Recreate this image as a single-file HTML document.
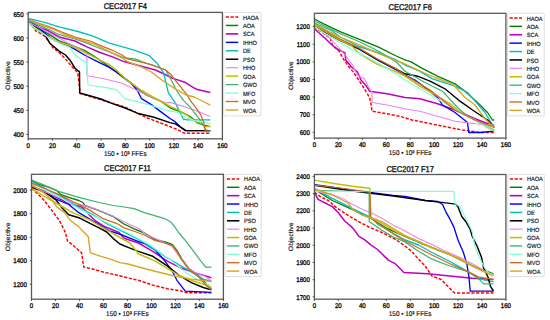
<!DOCTYPE html><html><head><meta charset="utf-8"><style>html,body{margin:0;padding:0;background:#fff;width:550px;height:320px;overflow:hidden}svg{display:block}</style></head><body>
<svg width="550" height="320" viewBox="0 0 550 320" text-rendering="geometricPrecision" font-family='"Liberation Sans", sans-serif'>
<rect width="550" height="320" fill="#fff"/>
<g fill="none" stroke-linejoin="round" stroke-linecap="butt">
<polyline points="28.2,22.5 31.1,24.5 35.8,30.8 43.6,35.4 48.3,40.9 53.0,47.9 59.2,52.6 65.5,58.9 71.3,66.0 77.8,72.8 80.3,93.5 88.0,96.0 101.0,99.8 125.0,107.0 145.6,117.3 162.1,123.5 176.7,129.3 184.8,133.3 210.3,133.3" stroke="#ff0000" stroke-width="1.45" stroke-dasharray="3.2,1.6"/>
<polyline points="28.2,22.0 35.8,26.8 48.3,33.9 59.2,40.9 75.0,46.6 84.4,50.3 93.8,56.0 103.1,62.5 112.5,69.0 121.9,76.6 131.3,83.2 145.6,94.6 160.0,100.8 170.0,107.8 180.8,111.8 190.2,116.5 196.9,122.6 203.6,125.2 210.3,126.6" stroke="#008000" stroke-width="1.35"/>
<polyline points="28.2,21.0 37.4,26.8 48.3,30.8 59.2,37.0 75.0,41.0 86.3,46.6 99.4,52.2 112.5,56.9 123.8,61.6 135.0,64.4 155.5,70.0 164.0,74.0 172.4,78.1 184.8,82.2 193.0,87.4 197.2,89.5 210.3,92.6" stroke="#bf00bf" stroke-width="1.50"/>
<polyline points="28.2,21.4 37.4,26.0 43.6,32.3 51.4,38.6 59.2,42.5 68.6,45.6 75.0,49.4 86.3,56.0 97.5,61.6 108.8,67.2 116.3,71.9 123.8,77.5 131.3,83.2 137.4,90.5 141.5,98.7 151.8,104.9 160.0,111.1 170.0,118.5 175.4,121.9 180.8,127.3 184.8,130.6 210.3,130.6" stroke="#0000ff" stroke-width="1.35"/>
<polyline points="28.2,18.3 43.6,22.2 59.2,26.8 78.0,31.5 93.8,36.3 108.8,42.8 121.9,46.6 135.0,50.3 141.0,52.7 149.4,55.7 157.5,63.8 163.6,73.0 168.3,92.6 175.4,103.1 180.8,113.8 183.4,119.2 186.9,119.9 210.3,119.9" stroke="#00bfbf" stroke-width="1.35"/>
<polyline points="28.2,22.2 32.7,25.3 35.8,27.6 40.5,31.5 45.2,35.4 49.9,43.2 54.6,47.2 59.2,51.1 65.5,55.0 70.2,60.4 75.0,68.2 79.5,71.9 79.7,93.0 88.0,95.3 101.0,99.0 110.5,102.9 125.0,108.0 137.4,113.2 153.9,117.3 170.0,122.6 175.4,123.9 186.1,130.6 210.3,130.6" stroke="#000000" stroke-width="1.45"/>
<polyline points="28.2,22.0 40.0,28.0 55.0,36.0 70.0,44.0 80.0,49.0 86.8,53.1 87.0,75.7 103.1,78.5 121.9,83.2 145.6,94.6 166.2,102.9 170.0,102.4 183.4,106.4 196.9,111.1 210.3,116.5" stroke="#ee82ee" stroke-width="1.10"/>
<polyline points="28.2,22.2 35.8,29.2 46.8,36.2 56.1,40.9 67.0,44.8 75.0,47.5 86.3,53.1 97.5,58.8 108.8,64.4 116.3,70.0 123.8,77.5 131.3,83.2 141.5,90.5 155.9,98.7 170.0,106.4 178.0,109.8 186.1,114.5 192.8,119.9 196.9,121.9 202.3,123.9 205.0,126.6 210.3,126.6" stroke="#bfbf00" stroke-width="1.45"/>
<polyline points="28.2,20.6 48.3,29.2 59.2,34.7 75.0,39.0 86.3,42.8 97.5,47.5 112.5,53.1 123.8,57.8 135.0,58.8 145.0,62.8 165.6,70.0 169.7,77.0 176.5,90.5 183.4,100.4 190.2,107.1 194.2,112.5 199.6,119.2 203.6,125.9 206.3,130.0 210.3,130.5" stroke="#3cb371" stroke-width="1.25"/>
<polyline points="28.2,23.0 38.0,30.0 48.3,37.0 59.2,43.2 70.2,47.9 75.0,55.0 82.5,60.6 86.3,62.5 88.1,85.0 105.0,87.3 116.3,89.7 125.0,98.7 145.6,103.9 166.2,110.1 178.0,112.5 186.1,117.8 194.2,120.5 202.3,121.9 210.3,123.9" stroke="#7fffd4" stroke-width="1.20"/>
<polyline points="28.2,19.0 37.4,22.9 51.4,27.6 62.4,32.3 75.0,37.2 90.0,41.0 103.1,46.6 112.5,50.3 121.9,55.0 127.5,58.8 135.0,60.6 151.4,64.5 165.6,70.0 170.4,74.0 178.6,84.3 186.9,94.6 190.2,100.4 195.5,107.1 200.9,115.2 203.6,121.9 205.0,130.0 205.6,131.3 210.3,131.3" stroke="#d2691e" stroke-width="1.25"/>
<polyline points="28.2,19.5 37.4,23.5 51.4,28.5 62.4,33.5 75.0,38.1 93.8,43.8 108.8,51.3 121.9,57.8 127.5,61.6 135.0,64.4 141.3,66.9 151.4,72.0 162.1,80.2 174.5,88.4 186.1,95.0 194.2,97.0 202.3,101.0 210.3,105.1" stroke="#daa520" stroke-width="1.35"/>
</g>
<rect x="28.20" y="12.40" width="194.20" height="126.40" fill="none" stroke="#5a5a5a" stroke-width="1.3"/>
<path d="M28.20 138.80v1.8 M52.48 138.80v1.8 M76.75 138.80v1.8 M101.03 138.80v1.8 M125.30 138.80v1.8 M149.57 138.80v1.8 M173.85 138.80v1.8 M198.12 138.80v1.8 M222.40 138.80v1.8 M28.20 134.50h-1.8 M28.20 110.38h-1.8 M28.20 86.26h-1.8 M28.20 62.14h-1.8 M28.20 38.02h-1.8 M28.20 13.90h-1.8" stroke="#333" stroke-width="0.8" fill="none"/>
<g fill="#111" stroke="#111"><text transform="translate(28.20 147.80) scale(1 1.130)" font-size="6.10" text-anchor="middle" stroke-width="0.30">0</text><text transform="translate(52.48 147.80) scale(1 1.130)" font-size="6.10" text-anchor="middle" stroke-width="0.30">20</text><text transform="translate(76.75 147.80) scale(1 1.130)" font-size="6.10" text-anchor="middle" stroke-width="0.30">40</text><text transform="translate(101.03 147.80) scale(1 1.130)" font-size="6.10" text-anchor="middle" stroke-width="0.30">60</text><text transform="translate(125.30 147.80) scale(1 1.130)" font-size="6.10" text-anchor="middle" stroke-width="0.30">80</text><text transform="translate(149.57 147.80) scale(1 1.130)" font-size="6.10" text-anchor="middle" stroke-width="0.30">100</text><text transform="translate(173.85 147.80) scale(1 1.130)" font-size="6.10" text-anchor="middle" stroke-width="0.30">120</text><text transform="translate(198.12 147.80) scale(1 1.130)" font-size="6.10" text-anchor="middle" stroke-width="0.30">140</text><text transform="translate(222.40 147.80) scale(1 1.130)" font-size="6.10" text-anchor="middle" stroke-width="0.30">160</text><text transform="translate(23.60 137.10) scale(1 1.130)" font-size="6.10" text-anchor="end" stroke-width="0.30">400</text><text transform="translate(23.60 112.98) scale(1 1.130)" font-size="6.10" text-anchor="end" stroke-width="0.30">450</text><text transform="translate(23.60 88.86) scale(1 1.130)" font-size="6.10" text-anchor="end" stroke-width="0.30">500</text><text transform="translate(23.60 64.74) scale(1 1.130)" font-size="6.10" text-anchor="end" stroke-width="0.30">550</text><text transform="translate(23.60 40.62) scale(1 1.130)" font-size="6.10" text-anchor="end" stroke-width="0.30">600</text><text transform="translate(23.60 16.50) scale(1 1.130)" font-size="6.10" text-anchor="end" stroke-width="0.30">650</text></g>
<g fill="#111" stroke="#111"><text transform="translate(125.30 9.40) scale(1 1.120)" font-size="7.50" text-anchor="middle" stroke-width="0.30">CEC2017 F4</text><text transform="translate(125.30 155.80) scale(1 1.080)" font-size="6.40" text-anchor="middle" stroke-width="0.15">150 &#8226; 10&#179; FFEs</text><text transform="translate(9.50 75.60) rotate(-90) scale(1.08 1)" font-size="6.40" text-anchor="middle" stroke-width="0.15">Objective</text></g>
<rect x="223.75" y="12.40" width="37.25" height="103.50" fill="#fff" stroke="#d0d0d0" stroke-width="0.7" rx="1"/>
<line x1="225.75" y1="17.00" x2="238.25" y2="17.00" stroke="#ff0000" stroke-width="1.55" stroke-dasharray="3.2,1.6"/>
<line x1="225.75" y1="25.45" x2="238.25" y2="25.45" stroke="#008000" stroke-width="1.45"/>
<line x1="225.75" y1="33.90" x2="238.25" y2="33.90" stroke="#bf00bf" stroke-width="1.60"/>
<line x1="225.75" y1="42.35" x2="238.25" y2="42.35" stroke="#0000ff" stroke-width="1.45"/>
<line x1="225.75" y1="50.80" x2="238.25" y2="50.80" stroke="#00bfbf" stroke-width="1.45"/>
<line x1="225.75" y1="59.25" x2="238.25" y2="59.25" stroke="#000000" stroke-width="1.55"/>
<line x1="225.75" y1="67.70" x2="238.25" y2="67.70" stroke="#ee82ee" stroke-width="1.20"/>
<line x1="225.75" y1="76.15" x2="238.25" y2="76.15" stroke="#bfbf00" stroke-width="1.55"/>
<line x1="225.75" y1="84.60" x2="238.25" y2="84.60" stroke="#3cb371" stroke-width="1.35"/>
<line x1="225.75" y1="93.05" x2="238.25" y2="93.05" stroke="#7fffd4" stroke-width="1.30"/>
<line x1="225.75" y1="101.50" x2="238.25" y2="101.50" stroke="#d2691e" stroke-width="1.35"/>
<line x1="225.75" y1="109.95" x2="238.25" y2="109.95" stroke="#daa520" stroke-width="1.45"/>
<g fill="#111" stroke="#111"><text transform="translate(242.95 19.55) scale(1 1.100)" font-size="5.60" stroke-width="0.15">HAOA</text><text transform="translate(242.95 28.00) scale(1 1.100)" font-size="5.60" stroke-width="0.15">AOA</text><text transform="translate(242.95 36.45) scale(1 1.100)" font-size="5.60" stroke-width="0.15">SCA</text><text transform="translate(242.95 44.90) scale(1 1.100)" font-size="5.60" stroke-width="0.15">IHHO</text><text transform="translate(242.95 53.35) scale(1 1.100)" font-size="5.60" stroke-width="0.15">DE</text><text transform="translate(242.95 61.80) scale(1 1.100)" font-size="5.60" stroke-width="0.15">PSO</text><text transform="translate(242.95 70.25) scale(1 1.100)" font-size="5.60" stroke-width="0.15">HHO</text><text transform="translate(242.95 78.70) scale(1 1.100)" font-size="5.60" stroke-width="0.15">GOA</text><text transform="translate(242.95 87.15) scale(1 1.100)" font-size="5.60" stroke-width="0.15">GWO</text><text transform="translate(242.95 95.60) scale(1 1.100)" font-size="5.60" stroke-width="0.15">MFO</text><text transform="translate(242.95 104.05) scale(1 1.100)" font-size="5.60" stroke-width="0.15">MVO</text><text transform="translate(242.95 112.50) scale(1 1.100)" font-size="5.60" stroke-width="0.15">WOA</text></g>
<g fill="none" stroke-linejoin="round" stroke-linecap="butt">
<polyline points="314.4,27.2 322.2,32.3 330.3,38.4 332.3,44.5 339.0,51.0 344.0,60.0 349.5,67.5 353.1,71.9 357.0,77.5 362.0,85.0 365.8,91.2 369.5,97.5 370.8,102.5 372.0,111.2 387.0,113.8 399.5,116.2 412.0,120.0 425.0,122.5 442.5,126.2 462.5,130.0 480.0,132.5 494.2,132.5" stroke="#ff0000" stroke-width="1.45" stroke-dasharray="3.2,1.6"/>
<polyline points="314.4,19.0 324.2,24.2 340.0,31.6 358.8,39.1 377.5,46.6 396.3,56.0 405.0,59.8 411.1,61.8 421.3,67.9 437.5,76.2 455.0,83.8 465.0,91.2 477.5,102.5 487.5,112.5 492.5,120.0 494.2,120.0" stroke="#008000" stroke-width="1.35"/>
<polyline points="314.4,28.5 318.0,32.0 324.5,37.8 330.0,43.0 335.4,48.0 340.0,50.5 344.8,52.6 345.8,60.0 351.5,67.0 357.5,72.0 361.0,80.0 366.3,86.0 369.5,91.2 387.0,93.8 405.0,97.5 420.0,98.8 437.5,103.8 455.0,110.0 475.0,118.8 494.2,126.2" stroke="#bf00bf" stroke-width="1.50"/>
<polyline points="314.4,26.0 340.0,40.5 358.8,49.0 377.5,60.0 396.3,70.0 405.0,75.0 415.0,80.0 425.0,87.5 437.5,97.5 442.5,105.0 455.0,112.5 467.5,122.5 468.8,132.5 480.0,132.5 494.2,131.2" stroke="#0000ff" stroke-width="1.35"/>
<polyline points="314.4,23.0 332.3,31.0 340.0,37.0 358.8,46.5 377.5,52.5 396.3,60.0 405.0,65.0 417.5,70.0 432.5,78.8 455.0,86.2 467.5,92.5 477.5,103.8 485.0,112.5 492.5,125.0 494.2,125.0" stroke="#00bfbf" stroke-width="1.35"/>
<polyline points="314.4,26.0 340.0,40.0 358.8,48.5 377.5,59.7 396.3,69.1 405.0,73.8 417.5,76.2 430.0,81.2 445.0,88.8 460.0,101.2 472.5,110.0 487.5,120.0 494.2,127.5" stroke="#000000" stroke-width="1.45"/>
<polyline points="314.4,26.0 330.0,38.0 345.0,55.0 352.6,64.8 357.0,75.0 364.5,78.8 368.2,86.2 372.0,92.5 372.0,102.5 387.0,105.0 405.0,108.8 420.0,111.2 437.5,116.2 455.0,121.2 475.0,123.8 494.2,125.0" stroke="#ee82ee" stroke-width="1.10"/>
<polyline points="314.4,25.0 340.0,40.0 351.3,45.6 358.8,53.1 368.1,58.8 377.5,64.4 396.3,71.9 405.0,76.2 420.0,86.2 437.5,96.2 450.0,103.8 462.5,113.8 475.0,120.0 487.5,127.5 494.2,131.2" stroke="#bfbf00" stroke-width="1.45"/>
<polyline points="314.4,21.0 340.0,33.5 360.0,42.0 380.0,52.0 396.3,62.0 405.0,71.2 425.0,82.5 442.5,91.2 457.5,107.5 467.5,116.2 480.0,122.5 494.2,130.0" stroke="#3cb371" stroke-width="1.25"/>
<polyline points="314.4,27.0 340.0,42.8 355.0,51.3 370.0,58.8 386.9,68.2 400.0,76.6 405.0,80.0 420.0,88.8 435.0,97.5 450.0,106.2 465.0,115.0 480.0,122.5 494.2,131.0" stroke="#7fffd4" stroke-width="1.20"/>
<polyline points="314.4,24.0 340.0,39.0 358.8,48.0 377.5,59.0 396.3,69.0 405.0,75.0 430.0,90.0 455.0,110.0 475.0,120.0 494.2,127.5" stroke="#d2691e" stroke-width="1.25"/>
<polyline points="314.4,24.0 340.0,37.0 358.8,44.7 377.5,53.1 396.3,60.6 405.0,64.0 420.0,71.2 435.0,77.5 452.5,83.8 465.0,97.5 475.0,105.0 485.0,118.8 492.5,126.2 494.2,126.5" stroke="#daa520" stroke-width="1.35"/>
</g>
<rect x="314.40" y="13.30" width="191.50" height="124.80" fill="none" stroke="#5a5a5a" stroke-width="1.3"/>
<path d="M314.40 138.10v1.8 M338.34 138.10v1.8 M362.27 138.10v1.8 M386.21 138.10v1.8 M410.15 138.10v1.8 M434.09 138.10v1.8 M458.02 138.10v1.8 M481.96 138.10v1.8 M505.90 138.10v1.8 M314.40 132.40h-1.8 M314.40 114.77h-1.8 M314.40 97.13h-1.8 M314.40 79.50h-1.8 M314.40 61.87h-1.8 M314.40 44.23h-1.8 M314.40 26.60h-1.8" stroke="#333" stroke-width="0.8" fill="none"/>
<g fill="#111" stroke="#111"><text transform="translate(314.40 147.10) scale(1 1.130)" font-size="6.10" text-anchor="middle" stroke-width="0.30">0</text><text transform="translate(338.34 147.10) scale(1 1.130)" font-size="6.10" text-anchor="middle" stroke-width="0.30">20</text><text transform="translate(362.27 147.10) scale(1 1.130)" font-size="6.10" text-anchor="middle" stroke-width="0.30">40</text><text transform="translate(386.21 147.10) scale(1 1.130)" font-size="6.10" text-anchor="middle" stroke-width="0.30">60</text><text transform="translate(410.15 147.10) scale(1 1.130)" font-size="6.10" text-anchor="middle" stroke-width="0.30">80</text><text transform="translate(434.09 147.10) scale(1 1.130)" font-size="6.10" text-anchor="middle" stroke-width="0.30">100</text><text transform="translate(458.02 147.10) scale(1 1.130)" font-size="6.10" text-anchor="middle" stroke-width="0.30">120</text><text transform="translate(481.96 147.10) scale(1 1.130)" font-size="6.10" text-anchor="middle" stroke-width="0.30">140</text><text transform="translate(505.90 147.10) scale(1 1.130)" font-size="6.10" text-anchor="middle" stroke-width="0.30">160</text><text transform="translate(309.80 135.00) scale(1 1.130)" font-size="6.10" text-anchor="end" stroke-width="0.30">600</text><text transform="translate(309.80 117.37) scale(1 1.130)" font-size="6.10" text-anchor="end" stroke-width="0.30">700</text><text transform="translate(309.80 99.73) scale(1 1.130)" font-size="6.10" text-anchor="end" stroke-width="0.30">800</text><text transform="translate(309.80 82.10) scale(1 1.130)" font-size="6.10" text-anchor="end" stroke-width="0.30">900</text><text transform="translate(309.80 64.47) scale(1 1.130)" font-size="6.10" text-anchor="end" stroke-width="0.30">1000</text><text transform="translate(309.80 46.83) scale(1 1.130)" font-size="6.10" text-anchor="end" stroke-width="0.30">1100</text><text transform="translate(309.80 29.20) scale(1 1.130)" font-size="6.10" text-anchor="end" stroke-width="0.30">1200</text></g>
<g fill="#111" stroke="#111"><text transform="translate(410.15 10.30) scale(1 1.120)" font-size="7.50" text-anchor="middle" stroke-width="0.30">CEC2017 F6</text><text transform="translate(410.15 155.10) scale(1 1.080)" font-size="6.40" text-anchor="middle" stroke-width="0.15">150 &#8226; 10&#179; FFEs</text><text transform="translate(292.90 75.70) rotate(-90) scale(1.08 1)" font-size="6.40" text-anchor="middle" stroke-width="0.15">Objective</text></g>
<rect x="507.50" y="13.30" width="36.70" height="102.60" fill="#fff" stroke="#d0d0d0" stroke-width="0.7" rx="1"/>
<line x1="509.50" y1="17.95" x2="522.00" y2="17.95" stroke="#ff0000" stroke-width="1.55" stroke-dasharray="3.2,1.6"/>
<line x1="509.50" y1="26.35" x2="522.00" y2="26.35" stroke="#008000" stroke-width="1.45"/>
<line x1="509.50" y1="34.75" x2="522.00" y2="34.75" stroke="#bf00bf" stroke-width="1.60"/>
<line x1="509.50" y1="43.15" x2="522.00" y2="43.15" stroke="#0000ff" stroke-width="1.45"/>
<line x1="509.50" y1="51.55" x2="522.00" y2="51.55" stroke="#00bfbf" stroke-width="1.45"/>
<line x1="509.50" y1="59.95" x2="522.00" y2="59.95" stroke="#000000" stroke-width="1.55"/>
<line x1="509.50" y1="68.35" x2="522.00" y2="68.35" stroke="#ee82ee" stroke-width="1.20"/>
<line x1="509.50" y1="76.75" x2="522.00" y2="76.75" stroke="#bfbf00" stroke-width="1.55"/>
<line x1="509.50" y1="85.15" x2="522.00" y2="85.15" stroke="#3cb371" stroke-width="1.35"/>
<line x1="509.50" y1="93.55" x2="522.00" y2="93.55" stroke="#7fffd4" stroke-width="1.30"/>
<line x1="509.50" y1="101.95" x2="522.00" y2="101.95" stroke="#d2691e" stroke-width="1.35"/>
<line x1="509.50" y1="110.35" x2="522.00" y2="110.35" stroke="#daa520" stroke-width="1.45"/>
<g fill="#111" stroke="#111"><text transform="translate(526.70 20.50) scale(1 1.100)" font-size="5.60" stroke-width="0.15">HAOA</text><text transform="translate(526.70 28.90) scale(1 1.100)" font-size="5.60" stroke-width="0.15">AOA</text><text transform="translate(526.70 37.30) scale(1 1.100)" font-size="5.60" stroke-width="0.15">SCA</text><text transform="translate(526.70 45.70) scale(1 1.100)" font-size="5.60" stroke-width="0.15">IHHO</text><text transform="translate(526.70 54.10) scale(1 1.100)" font-size="5.60" stroke-width="0.15">DE</text><text transform="translate(526.70 62.50) scale(1 1.100)" font-size="5.60" stroke-width="0.15">PSO</text><text transform="translate(526.70 70.90) scale(1 1.100)" font-size="5.60" stroke-width="0.15">HHO</text><text transform="translate(526.70 79.30) scale(1 1.100)" font-size="5.60" stroke-width="0.15">GOA</text><text transform="translate(526.70 87.70) scale(1 1.100)" font-size="5.60" stroke-width="0.15">GWO</text><text transform="translate(526.70 96.10) scale(1 1.100)" font-size="5.60" stroke-width="0.15">MFO</text><text transform="translate(526.70 104.50) scale(1 1.100)" font-size="5.60" stroke-width="0.15">MVO</text><text transform="translate(526.70 112.90) scale(1 1.100)" font-size="5.60" stroke-width="0.15">WOA</text></g>
<g fill="none" stroke-linejoin="round" stroke-linecap="butt">
<polyline points="31.5,188.3 38.2,194.4 44.3,200.5 50.4,208.6 56.5,216.7 59.5,220.8 62.6,226.9 65.6,233.0 67.4,240.8 74.0,246.2 81.6,252.8 82.7,260.4 83.8,267.0 93.6,269.2 104.6,272.5 115.5,274.7 128.0,278.0 138.4,280.3 152.8,285.1 167.3,288.7 181.7,291.1 186.5,292.8 211.4,292.8" stroke="#ff0000" stroke-width="1.45" stroke-dasharray="3.2,1.6"/>
<polyline points="31.5,180.1 38.2,184.2 48.3,187.2 56.5,190.3 60.5,194.4 68.7,197.4 78.8,200.5 82.9,202.5 84.9,205.5 99.1,210.6 113.4,216.7 124.0,224.0 134.2,228.9 144.3,233.0 155.3,239.6 164.9,242.0 172.1,244.4 176.9,250.4 181.7,258.9 188.9,268.5 198.5,275.7 205.7,283.1 211.4,288.9" stroke="#008000" stroke-width="1.35"/>
<polyline points="31.5,186.5 45.0,192.0 57.0,197.5 70.0,204.0 82.0,207.0 89.4,215.0 95.6,221.0 103.4,226.0 119.0,232.5 124.0,238.2 138.4,243.0 152.8,251.4 167.3,261.1 181.7,268.3 196.1,273.1 208.1,276.7 211.4,277.9" stroke="#bf00bf" stroke-width="1.50"/>
<polyline points="31.5,186.2 44.3,191.3 54.4,198.4 68.7,204.5 78.8,212.7 89.0,218.7 99.1,224.8 109.3,230.9 119.5,234.0 136.0,240.6 145.6,244.2 155.3,250.2 164.9,261.1 172.1,270.7 176.9,280.3 185.3,291.1 211.4,292.3" stroke="#0000ff" stroke-width="1.35"/>
<polyline points="31.5,181.1 48.3,190.3 64.6,198.4 78.8,207.6 93.0,214.7 105.2,222.8 117.4,228.9 124.0,232.2 138.4,239.4 150.4,246.6 162.5,255.0 176.9,263.5 191.3,271.9 203.3,279.1 211.4,281.5" stroke="#00bfbf" stroke-width="1.35"/>
<polyline points="31.5,187.2 40.2,190.3 48.3,194.4 56.5,200.5 62.6,208.6 68.7,214.7 78.8,217.7 89.0,222.8 99.1,227.9 106.8,232.0 113.3,238.6 119.9,244.0 128.0,247.3 138.4,251.4 152.8,256.3 167.3,265.9 179.3,275.5 191.3,282.7 203.3,287.5 211.4,289.9" stroke="#000000" stroke-width="1.45"/>
<polyline points="31.5,186.0 44.5,191.8 57.0,196.8 67.0,200.5 74.5,203.0 82.0,204.9 95.6,209.0 111.2,215.3 120.6,220.0 130.0,224.7 136.0,227.0 141.0,230.0 145.6,234.6 160.0,240.6 172.1,246.6 179.3,256.3 188.9,268.3 196.1,273.1 205.7,276.7 211.4,281.0" stroke="#ee82ee" stroke-width="1.10"/>
<polyline points="31.5,188.3 44.3,196.4 58.5,204.5 72.7,212.7 90.0,220.0 107.0,230.0 119.0,237.0 130.0,243.0 138.4,253.8 155.3,261.1 167.3,268.3 179.3,275.5 191.3,280.3 205.7,285.1 211.4,287.5" stroke="#bfbf00" stroke-width="1.45"/>
<polyline points="31.5,180.1 44.3,185.2 58.5,191.3 78.8,197.4 99.1,202.5 113.4,205.5 124.0,207.0 134.2,208.6 144.3,212.7 154.5,215.7 164.7,218.7 170.7,221.8 174.8,226.9 178.9,233.0 186.5,241.8 193.7,251.4 200.9,261.1 205.7,267.1 211.4,267.1" stroke="#3cb371" stroke-width="1.25"/>
<polyline points="31.5,183.0 58.5,196.4 78.8,208.6 99.1,218.7 113.4,225.9 128.0,233.0 150.0,245.0 172.1,261.1 186.5,273.1 200.9,281.5 211.4,286.3" stroke="#7fffd4" stroke-width="1.20"/>
<polyline points="31.5,183.2 44.3,188.3 58.5,194.4 72.7,201.5 89.0,209.6 103.2,218.7 117.4,223.8 124.0,227.9 136.2,232.0 146.4,236.0 155.3,240.6 164.9,243.0 172.1,245.4 176.9,251.4 181.7,259.9 188.9,269.5 198.5,276.7 205.7,285.1 211.4,289.9" stroke="#d2691e" stroke-width="1.25"/>
<polyline points="31.5,184.2 44.3,193.3 52.4,200.5 56.5,206.6 64.6,212.7 70.7,220.8 78.8,226.9 83.8,232.0 88.2,236.4 89.3,245.1 90.4,252.8 100.2,256.1 111.2,259.4 119.9,262.6 128.0,264.0 148.0,269.5 172.1,275.5 191.3,279.1 211.4,281.5" stroke="#daa520" stroke-width="1.35"/>
</g>
<rect x="31.50" y="174.30" width="191.90" height="124.90" fill="none" stroke="#5a5a5a" stroke-width="1.3"/>
<path d="M31.50 299.20v1.8 M55.49 299.20v1.8 M79.47 299.20v1.8 M103.46 299.20v1.8 M127.45 299.20v1.8 M151.44 299.20v1.8 M175.43 299.20v1.8 M199.41 299.20v1.8 M223.40 299.20v1.8 M31.50 284.20h-1.8 M31.50 260.68h-1.8 M31.50 237.15h-1.8 M31.50 213.62h-1.8 M31.50 190.10h-1.8" stroke="#333" stroke-width="0.8" fill="none"/>
<g fill="#111" stroke="#111"><text transform="translate(31.50 308.20) scale(1 1.130)" font-size="6.10" text-anchor="middle" stroke-width="0.30">0</text><text transform="translate(55.49 308.20) scale(1 1.130)" font-size="6.10" text-anchor="middle" stroke-width="0.30">20</text><text transform="translate(79.47 308.20) scale(1 1.130)" font-size="6.10" text-anchor="middle" stroke-width="0.30">40</text><text transform="translate(103.46 308.20) scale(1 1.130)" font-size="6.10" text-anchor="middle" stroke-width="0.30">60</text><text transform="translate(127.45 308.20) scale(1 1.130)" font-size="6.10" text-anchor="middle" stroke-width="0.30">80</text><text transform="translate(151.44 308.20) scale(1 1.130)" font-size="6.10" text-anchor="middle" stroke-width="0.30">100</text><text transform="translate(175.43 308.20) scale(1 1.130)" font-size="6.10" text-anchor="middle" stroke-width="0.30">120</text><text transform="translate(199.41 308.20) scale(1 1.130)" font-size="6.10" text-anchor="middle" stroke-width="0.30">140</text><text transform="translate(223.40 308.20) scale(1 1.130)" font-size="6.10" text-anchor="middle" stroke-width="0.30">160</text><text transform="translate(26.90 286.80) scale(1 1.130)" font-size="6.10" text-anchor="end" stroke-width="0.30">1200</text><text transform="translate(26.90 263.28) scale(1 1.130)" font-size="6.10" text-anchor="end" stroke-width="0.30">1400</text><text transform="translate(26.90 239.75) scale(1 1.130)" font-size="6.10" text-anchor="end" stroke-width="0.30">1600</text><text transform="translate(26.90 216.22) scale(1 1.130)" font-size="6.10" text-anchor="end" stroke-width="0.30">1800</text><text transform="translate(26.90 192.70) scale(1 1.130)" font-size="6.10" text-anchor="end" stroke-width="0.30">2000</text></g>
<g fill="#111" stroke="#111"><text transform="translate(127.45 171.30) scale(1 1.120)" font-size="7.50" text-anchor="middle" stroke-width="0.30">CEC2017 F11</text><text transform="translate(127.45 316.20) scale(1 1.080)" font-size="6.40" text-anchor="middle" stroke-width="0.15">150 &#8226; 10&#179; FFEs</text><text transform="translate(10.00 236.75) rotate(-90) scale(1.08 1)" font-size="6.40" text-anchor="middle" stroke-width="0.15">Objective</text></g>
<rect x="224.90" y="174.30" width="36.30" height="102.30" fill="#fff" stroke="#d0d0d0" stroke-width="0.7" rx="1"/>
<line x1="226.90" y1="178.90" x2="239.40" y2="178.90" stroke="#ff0000" stroke-width="1.55" stroke-dasharray="3.2,1.6"/>
<line x1="226.90" y1="187.28" x2="239.40" y2="187.28" stroke="#008000" stroke-width="1.45"/>
<line x1="226.90" y1="195.66" x2="239.40" y2="195.66" stroke="#bf00bf" stroke-width="1.60"/>
<line x1="226.90" y1="204.04" x2="239.40" y2="204.04" stroke="#0000ff" stroke-width="1.45"/>
<line x1="226.90" y1="212.42" x2="239.40" y2="212.42" stroke="#00bfbf" stroke-width="1.45"/>
<line x1="226.90" y1="220.80" x2="239.40" y2="220.80" stroke="#000000" stroke-width="1.55"/>
<line x1="226.90" y1="229.18" x2="239.40" y2="229.18" stroke="#ee82ee" stroke-width="1.20"/>
<line x1="226.90" y1="237.56" x2="239.40" y2="237.56" stroke="#bfbf00" stroke-width="1.55"/>
<line x1="226.90" y1="245.94" x2="239.40" y2="245.94" stroke="#3cb371" stroke-width="1.35"/>
<line x1="226.90" y1="254.32" x2="239.40" y2="254.32" stroke="#7fffd4" stroke-width="1.30"/>
<line x1="226.90" y1="262.70" x2="239.40" y2="262.70" stroke="#d2691e" stroke-width="1.35"/>
<line x1="226.90" y1="271.08" x2="239.40" y2="271.08" stroke="#daa520" stroke-width="1.45"/>
<g fill="#111" stroke="#111"><text transform="translate(244.10 181.45) scale(1 1.100)" font-size="5.60" stroke-width="0.15">HAOA</text><text transform="translate(244.10 189.83) scale(1 1.100)" font-size="5.60" stroke-width="0.15">AOA</text><text transform="translate(244.10 198.21) scale(1 1.100)" font-size="5.60" stroke-width="0.15">SCA</text><text transform="translate(244.10 206.59) scale(1 1.100)" font-size="5.60" stroke-width="0.15">IHHO</text><text transform="translate(244.10 214.97) scale(1 1.100)" font-size="5.60" stroke-width="0.15">DE</text><text transform="translate(244.10 223.35) scale(1 1.100)" font-size="5.60" stroke-width="0.15">PSO</text><text transform="translate(244.10 231.73) scale(1 1.100)" font-size="5.60" stroke-width="0.15">HHO</text><text transform="translate(244.10 240.11) scale(1 1.100)" font-size="5.60" stroke-width="0.15">GOA</text><text transform="translate(244.10 248.49) scale(1 1.100)" font-size="5.60" stroke-width="0.15">GWO</text><text transform="translate(244.10 256.87) scale(1 1.100)" font-size="5.60" stroke-width="0.15">MFO</text><text transform="translate(244.10 265.25) scale(1 1.100)" font-size="5.60" stroke-width="0.15">MVO</text><text transform="translate(244.10 273.63) scale(1 1.100)" font-size="5.60" stroke-width="0.15">WOA</text></g>
<g fill="none" stroke-linejoin="round" stroke-linecap="butt">
<polyline points="314.4,192.3 320.1,196.4 328.3,200.5 336.4,207.6 348.6,215.7 360.8,222.8 368.8,227.0 381.9,232.5 395.0,239.1 405.0,246.0 411.7,251.3 418.5,259.2 425.2,266.0 432.0,276.1 441.0,279.4 450.0,288.4 454.4,292.9 493.5,292.9" stroke="#ff0000" stroke-width="1.45" stroke-dasharray="3.2,1.6"/>
<polyline points="314.4,189.3 332.3,200.5 352.6,209.6 370.9,218.3 386.3,228.1 403.8,235.8 421.3,243.5 427.5,245.7 450.0,254.7 472.4,266.0 493.5,273.8" stroke="#008000" stroke-width="1.35"/>
<polyline points="314.4,192.3 318.1,199.4 324.2,202.5 332.3,206.6 338.4,212.7 344.5,220.8 352.6,227.9 355.8,232.0 359.0,236.4 364.5,239.7 371.1,245.1 377.6,249.5 384.2,256.1 388.6,260.4 395.2,263.7 399.5,268.1 403.9,272.5 427.5,273.8 450.0,276.1 472.4,278.3 493.5,279.4" stroke="#bf00bf" stroke-width="1.50"/>
<polyline points="314.4,184.6 332.3,187.2 352.6,190.3 369.9,192.3 393.3,195.4 405.0,196.4 425.3,200.5 437.5,201.5 442.6,204.5 445.7,211.6 449.7,218.7 453.8,226.9 458.0,240.0 463.4,252.5 466.8,263.7 469.0,277.2 470.2,291.1 493.5,291.1" stroke="#0000ff" stroke-width="1.35"/>
<polyline points="314.4,188.3 332.3,198.4 352.6,208.6 373.0,218.7 377.5,224.0 392.8,233.0 405.0,240.0 418.5,245.0 432.0,252.5 450.0,261.5 467.9,271.6 481.4,279.4 493.5,281.7" stroke="#00bfbf" stroke-width="1.35"/>
<polyline points="314.4,185.2 352.6,191.0 393.3,196.0 425.3,200.5 439.6,202.1 455.8,204.1 457.8,206.6 461.9,216.7 466.0,221.8 470.0,228.9 472.4,236.7 476.9,245.7 481.4,257.0 483.7,268.2 488.1,277.2 490.4,286.2 493.5,291.1" stroke="#000000" stroke-width="1.45"/>
<polyline points="314.4,191.0 332.3,194.4 342.5,198.4 352.6,204.5 362.8,209.6 370.9,212.8 381.9,218.3 392.8,224.9 403.8,230.3 418.5,238.5 432.0,244.6 445.5,251.3 458.9,257.0 472.4,263.7 485.9,271.6 493.5,274.9" stroke="#ee82ee" stroke-width="1.10"/>
<polyline points="314.4,180.1 332.3,183.2 352.6,186.2 369.9,188.3 370.5,217.2 377.5,220.5 386.3,226.0 397.2,232.5 405.0,236.0 418.5,241.5 432.0,248.0 450.0,254.7 467.9,263.7 483.7,271.6 493.5,274.9" stroke="#bfbf00" stroke-width="1.45"/>
<polyline points="314.4,190.3 340.0,191.0 369.2,192.0 369.2,221.6 381.9,230.3 392.8,236.9 403.8,241.3 418.5,251.3 432.0,259.2 450.0,266.0 467.9,271.6 479.2,279.4 483.7,283.9 493.5,283.9" stroke="#3cb371" stroke-width="1.25"/>
<polyline points="314.4,191.3 453.8,191.3 454.8,203.5 459.9,206.6 463.9,214.7 468.0,222.8 472.1,231.0 474.7,245.7 479.2,257.0 483.7,266.0 488.1,272.7 493.5,274.9" stroke="#7fffd4" stroke-width="1.20"/>
<polyline points="314.4,185.2 340.0,188.0 369.8,192.0 370.9,218.3 381.9,226.0 392.8,233.6 405.0,241.0 418.5,248.0 432.0,255.0 450.0,263.7 467.9,271.6 479.2,277.2 493.5,279.4" stroke="#d2691e" stroke-width="1.25"/>
<polyline points="314.4,189.0 332.3,195.0 348.0,203.0 352.6,209.5 362.0,215.0 370.9,218.0 381.9,221.6 405.0,235.6 423.0,243.5 441.0,251.3 458.9,258.1 476.9,268.2 493.5,276.1" stroke="#daa520" stroke-width="1.35"/>
</g>
<rect x="314.40" y="174.50" width="191.50" height="124.70" fill="none" stroke="#5a5a5a" stroke-width="1.3"/>
<path d="M314.40 299.20v1.8 M338.34 299.20v1.8 M362.27 299.20v1.8 M386.21 299.20v1.8 M410.15 299.20v1.8 M434.09 299.20v1.8 M458.02 299.20v1.8 M481.96 299.20v1.8 M505.90 299.20v1.8 M314.40 296.90h-1.8 M314.40 279.69h-1.8 M314.40 262.47h-1.8 M314.40 245.26h-1.8 M314.40 228.04h-1.8 M314.40 210.83h-1.8 M314.40 193.61h-1.8 M314.40 176.40h-1.8" stroke="#333" stroke-width="0.8" fill="none"/>
<g fill="#111" stroke="#111"><text transform="translate(314.40 308.20) scale(1 1.130)" font-size="6.10" text-anchor="middle" stroke-width="0.30">0</text><text transform="translate(338.34 308.20) scale(1 1.130)" font-size="6.10" text-anchor="middle" stroke-width="0.30">20</text><text transform="translate(362.27 308.20) scale(1 1.130)" font-size="6.10" text-anchor="middle" stroke-width="0.30">40</text><text transform="translate(386.21 308.20) scale(1 1.130)" font-size="6.10" text-anchor="middle" stroke-width="0.30">60</text><text transform="translate(410.15 308.20) scale(1 1.130)" font-size="6.10" text-anchor="middle" stroke-width="0.30">80</text><text transform="translate(434.09 308.20) scale(1 1.130)" font-size="6.10" text-anchor="middle" stroke-width="0.30">100</text><text transform="translate(458.02 308.20) scale(1 1.130)" font-size="6.10" text-anchor="middle" stroke-width="0.30">120</text><text transform="translate(481.96 308.20) scale(1 1.130)" font-size="6.10" text-anchor="middle" stroke-width="0.30">140</text><text transform="translate(505.90 308.20) scale(1 1.130)" font-size="6.10" text-anchor="middle" stroke-width="0.30">160</text><text transform="translate(309.80 299.50) scale(1 1.130)" font-size="6.10" text-anchor="end" stroke-width="0.30">1700</text><text transform="translate(309.80 282.29) scale(1 1.130)" font-size="6.10" text-anchor="end" stroke-width="0.30">1800</text><text transform="translate(309.80 265.07) scale(1 1.130)" font-size="6.10" text-anchor="end" stroke-width="0.30">1900</text><text transform="translate(309.80 247.86) scale(1 1.130)" font-size="6.10" text-anchor="end" stroke-width="0.30">2000</text><text transform="translate(309.80 230.64) scale(1 1.130)" font-size="6.10" text-anchor="end" stroke-width="0.30">2100</text><text transform="translate(309.80 213.43) scale(1 1.130)" font-size="6.10" text-anchor="end" stroke-width="0.30">2200</text><text transform="translate(309.80 196.21) scale(1 1.130)" font-size="6.10" text-anchor="end" stroke-width="0.30">2300</text><text transform="translate(309.80 179.00) scale(1 1.130)" font-size="6.10" text-anchor="end" stroke-width="0.30">2400</text></g>
<g fill="#111" stroke="#111"><text transform="translate(410.15 171.50) scale(1 1.120)" font-size="7.50" text-anchor="middle" stroke-width="0.30">CEC2017 F17</text><text transform="translate(410.15 316.20) scale(1 1.080)" font-size="6.40" text-anchor="middle" stroke-width="0.15">150 &#8226; 10&#179; FFEs</text><text transform="translate(292.90 236.85) rotate(-90) scale(1.08 1)" font-size="6.40" text-anchor="middle" stroke-width="0.15">Objective</text></g>
<rect x="507.80" y="174.50" width="36.50" height="102.10" fill="#fff" stroke="#d0d0d0" stroke-width="0.7" rx="1"/>
<line x1="509.80" y1="178.90" x2="522.30" y2="178.90" stroke="#ff0000" stroke-width="1.55" stroke-dasharray="3.2,1.6"/>
<line x1="509.80" y1="187.28" x2="522.30" y2="187.28" stroke="#008000" stroke-width="1.45"/>
<line x1="509.80" y1="195.66" x2="522.30" y2="195.66" stroke="#bf00bf" stroke-width="1.60"/>
<line x1="509.80" y1="204.04" x2="522.30" y2="204.04" stroke="#0000ff" stroke-width="1.45"/>
<line x1="509.80" y1="212.42" x2="522.30" y2="212.42" stroke="#00bfbf" stroke-width="1.45"/>
<line x1="509.80" y1="220.80" x2="522.30" y2="220.80" stroke="#000000" stroke-width="1.55"/>
<line x1="509.80" y1="229.18" x2="522.30" y2="229.18" stroke="#ee82ee" stroke-width="1.20"/>
<line x1="509.80" y1="237.56" x2="522.30" y2="237.56" stroke="#bfbf00" stroke-width="1.55"/>
<line x1="509.80" y1="245.94" x2="522.30" y2="245.94" stroke="#3cb371" stroke-width="1.35"/>
<line x1="509.80" y1="254.32" x2="522.30" y2="254.32" stroke="#7fffd4" stroke-width="1.30"/>
<line x1="509.80" y1="262.70" x2="522.30" y2="262.70" stroke="#d2691e" stroke-width="1.35"/>
<line x1="509.80" y1="271.08" x2="522.30" y2="271.08" stroke="#daa520" stroke-width="1.45"/>
<g fill="#111" stroke="#111"><text transform="translate(527.00 181.45) scale(1 1.100)" font-size="5.60" stroke-width="0.15">HAOA</text><text transform="translate(527.00 189.83) scale(1 1.100)" font-size="5.60" stroke-width="0.15">AOA</text><text transform="translate(527.00 198.21) scale(1 1.100)" font-size="5.60" stroke-width="0.15">SCA</text><text transform="translate(527.00 206.59) scale(1 1.100)" font-size="5.60" stroke-width="0.15">IHHO</text><text transform="translate(527.00 214.97) scale(1 1.100)" font-size="5.60" stroke-width="0.15">DE</text><text transform="translate(527.00 223.35) scale(1 1.100)" font-size="5.60" stroke-width="0.15">PSO</text><text transform="translate(527.00 231.73) scale(1 1.100)" font-size="5.60" stroke-width="0.15">HHO</text><text transform="translate(527.00 240.11) scale(1 1.100)" font-size="5.60" stroke-width="0.15">GOA</text><text transform="translate(527.00 248.49) scale(1 1.100)" font-size="5.60" stroke-width="0.15">GWO</text><text transform="translate(527.00 256.87) scale(1 1.100)" font-size="5.60" stroke-width="0.15">MFO</text><text transform="translate(527.00 265.25) scale(1 1.100)" font-size="5.60" stroke-width="0.15">MVO</text><text transform="translate(527.00 273.63) scale(1 1.100)" font-size="5.60" stroke-width="0.15">WOA</text></g>
</svg></body></html>
